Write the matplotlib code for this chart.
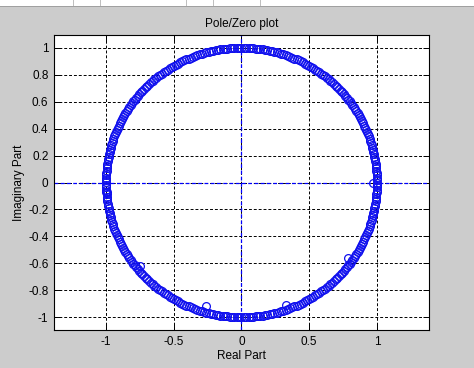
import numpy as np
import matplotlib.pyplot as plt
from matplotlib.patches import Rectangle

# Zeros sitting on the unit circle (angle in degrees)
ring_angles_deg = [
    0, 1, 2, 3, 4, 5, 6, 7, 8, 9, 10, 11, 12, 13, 14, 15, 16, 17, 18, 19,
    20, 21, 22, 23, 24, 25, 26, 27, 28, 29, 30, 31, 32, 33, 34, 35, 36, 37, 38, 39,
    40, 41, 42, 43, 44, 45, 46, 47, 48, 49, 50, 51, 52, 53, 54, 55, 56, 57, 58, 59,
    60, 61, 62, 63, 64, 65, 66, 67, 68, 69, 70, 71, 72, 73, 74, 75, 76, 77, 78, 79,
    80, 81, 82, 83, 84, 85, 86, 87, 88, 89, 90, 91, 92, 93, 94, 95, 96, 97, 98, 99,
    100, 101, 102, 103, 104, 105, 106, 107, 108, 109, 110, 111, 112, 113, 114, 115, 116, 117, 118, 119,
    120, 121, 122, 123, 124, 125, 126, 127, 128, 129, 130, 131, 132, 133, 134, 135, 136, 137, 138, 139,
    140, 141, 142, 143, 144, 145, 146, 147, 148, 149, 150, 151, 152, 153, 154, 155, 156, 157, 158, 159,
    160, 161, 162, 163, 164, 165, 166, 167, 168, 169, 170, 171, 172, 173, 174, 175, 176, 177, 178, 179,
    180, 181, 182, 183, 184, 185, 186, 187, 188, 189, 190, 191, 192, 193, 194, 195, 196, 197, 198, 199,
    200, 201, 202, 203, 204, 205, 206, 207, 208, 209, 210, 211, 212, 213, 214, 215, 216, 217, 218, 219,
    220, 221, 222, 223, 224, 225, 226, 227, 228, 229, 230, 231, 232, 233, 234, 235, 236, 237, 238, 239,
    240, 241, 242, 243, 244, 245, 246, 247, 248, 249, 250, 251, 252, 253, 254, 255, 256, 257, 258, 259,
    260, 261, 262, 263, 264, 265, 266, 267, 268, 269, 270, 271, 272, 273, 274, 275, 276, 277, 278, 279,
    280, 281, 282, 283, 284, 285, 286, 287, 288, 289, 290, 291, 292, 293, 294, 295, 296, 297, 298, 299,
    300, 301, 302, 303, 304, 305, 306, 307, 308, 309, 310, 311, 312, 313, 314, 315, 316, 317, 318, 319,
    320, 321, 322, 323, 324, 325, 326, 327, 328, 329, 330, 331, 332, 333, 334, 335, 336, 337, 338, 339,
    340, 341, 342, 343, 344, 345, 346, 347, 348, 349, 350, 351, 352, 353, 354, 355, 356, 357, 358, 359,
]

# Zeros lying just inside the circle
inner_re = [0.97, -0.75, 0.79, 0.33, -0.26, -0.99]
inner_im = [0.0, -0.62, -0.56, -0.91, -0.92, -0.07]

x_ticks = [-1, -0.5, 0, 0.5, 1]
x_tick_labels = ["-1", "-0.5", "0", "0.5", "1"]
y_ticks = [-1, -0.8, -0.6, -0.4, -0.2, 0, 0.2, 0.4, 0.6, 0.8, 1]
y_tick_labels = ["-1", "-0.8", "-0.6", "-0.4", "-0.2", "0", "0.2", "0.4", "0.6", "0.8", "1"]

BG = "#cccccc"
plt.rcParams["font.family"] = ["Liberation Sans", "DejaVu Sans"]

fig = plt.figure(figsize=(4.74, 3.68), dpi=100, facecolor=BG)
ax = fig.add_axes([54 / 474, 1 - 330 / 368, (429 - 54) / 474, (330 - 35) / 368])

# window strip at the top
fig.patches.append(Rectangle((0, 1 - 6 / 368), 1, 6 / 368, transform=fig.transFigure,
                             facecolor="white", edgecolor="none"))
fig.patches.append(Rectangle((0, 1 - 7 / 368), 1, 1 / 368, transform=fig.transFigure,
                             facecolor="#a0a0a0", edgecolor="none"))
for sx in [73, 100, 186, 213, 260]:
    fig.patches.append(Rectangle((sx / 474, 1 - 6 / 368), 1 / 474, 6 / 368,
                                 transform=fig.transFigure, facecolor="#c0c0c0", edgecolor="none"))

ang = np.deg2rad(np.array(ring_angles_deg))
ax.axhline(0, color="blue", linestyle=(0, (3, 2)), linewidth=0.9, zorder=1)
ax.axvline(0, color="blue", linestyle=(0, (3, 2)), linewidth=0.9, zorder=1)
ax.plot(np.cos(ang), np.sin(ang), linestyle="none", marker="o", markersize=5.6,
        markerfacecolor="none", markeredgecolor="#1010ee", markeredgewidth=0.9, zorder=3)
ax.plot(inner_re, inner_im, linestyle="none", marker="o", markersize=5.6,
        markerfacecolor="none", markeredgecolor="#1010ee", markeredgewidth=0.9, zorder=3)

ax.set_xlim(-1.385, 1.385)
ax.set_ylim(-1.095, 1.095)
ax.set_xticks(x_ticks)
ax.set_xticklabels(x_tick_labels)
ax.set_yticks(y_ticks)
ax.set_yticklabels(y_tick_labels)
ax.grid(True, color="black", linestyle=(0, (3, 2)), linewidth=0.7)
ax.set_axisbelow(True)
ax.tick_params(direction="in", length=4, width=0.7, labelsize=8.5, top=True, right=True, pad=4)
for sp in ax.spines.values():
    sp.set_linewidth(0.8)

ax.set_title("Pole/Zero plot", fontsize=8.5, pad=6)
ax.set_xlabel("Real Part", fontsize=8.5, labelpad=2)
ax.set_ylabel("Imaginary Part", fontsize=8.5, labelpad=2)

fig.savefig("out.png", dpi=100, facecolor=BG)
